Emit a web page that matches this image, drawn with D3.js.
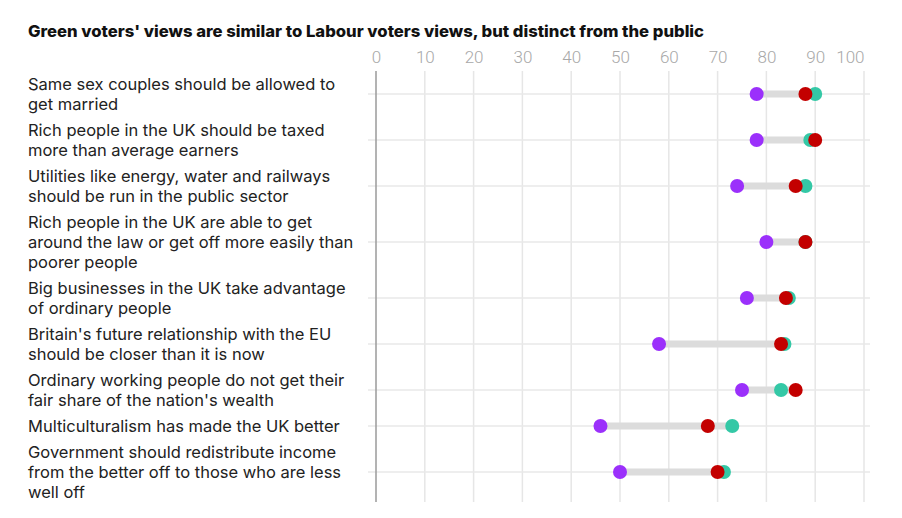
<!DOCTYPE html>
<html>
<head>
<meta charset="utf-8">
<script src="https://cdn.jsdelivr.net/npm/d3@7"></script>
<style>
  body { margin: 0; background: #fff; }
</style>
</head>
<body>
<div id="chart-area"></div>
<script>
// statements, each one split into the lines shown in the chart
var categories = [
    ["Same sex couples should be allowed to", "get married"],
    ["Rich people in the UK should be taxed", "more than average earners"],
    ["Utilities like energy, water and railways", "should be run in the public sector"],
    ["Rich people in the UK are able to get", "around the law or get off more easily than", "poorer people"],
    ["Big businesses in the UK take advantage", "of ordinary people"],
    ["Britain's future relationship with the EU", "should be closer than it is now"],
    ["Ordinary working people do not get their", "fair share of the nation's wealth"],
    ["Multiculturalism has made the UK better"],
    ["Government should redistribute income", "from the better off to those who are less", "well off"]
];
var publicValues = [78, 78, 74, 80, 76, 58, 75, 46, 50];
var greenValues  = [90, 89, 88, 88, 84.6, 83.7, 83, 73, 71.3];
var labourValues = [88, 90, 86, 88, 84, 83, 86, 68, 70];
var tickValues = [0, 10, 20, 30, 40, 50, 60, 70, 80, 90, 100];

var width = 902, height = 518;
var plotLeft = 376, plotRight = 864, plotTop = 71;
var lineH = 20, rowPad = 6;

var svg = d3.select("#chart-area").append("svg").attr("width", width).attr("height", height);

var keys = categories.map((c) => c.join(" "));
var data = categories.map((c, i) => ({key: keys[i], lines: c, pub: publicValues[i], green: greenValues[i], labour: labourValues[i]}));

// rows get taller with more label lines
var centers = [], yPos = plotTop;
categories.forEach((c) => {
    var h = c.length * lineH + rowPad;
    centers.push(yPos + h / 2);
    yPos += h;
});
var plotBottom = yPos - 3;

var x = d3.scaleLinear().domain([0, 100]).range([plotLeft, plotRight]);
var y = d3.scaleOrdinal().domain(keys).range(centers);

svg.append("text").attr("x", 28).attr("y", 37)
    .attr("font-family", "Inter, sans-serif").attr("font-weight", 800).attr("font-size", "16px")
    .attr("textLength", 676).attr("lengthAdjust", "spacingAndGlyphs")
    .attr("fill", "#111").text("Green voters' views are similar to Labour voters views, but distinct from the public");

// vertical grid
svg.append("g").selectAll("line").data(tickValues.filter((d) => d > 0)).enter().append("line")
    .attr("x1", (d) => x(d)).attr("x2", (d) => x(d)).attr("y1", plotTop).attr("y2", plotBottom)
    .attr("stroke", "#e6e6e6").attr("stroke-width", 1.5);

// horizontal row lines
svg.append("g").selectAll("line").data(data).enter().append("line")
    .attr("x1", plotLeft - 8).attr("x2", 870).attr("y1", (d) => y(d.key)).attr("y2", (d) => y(d.key))
    .attr("stroke", "#e8e8e8").attr("stroke-width", 1.5);

svg.append("line").attr("x1", x(0)).attr("x2", x(0)).attr("y1", plotTop).attr("y2", plotBottom)
    .attr("stroke", "#9a9a9a").attr("stroke-width", 1.5);

var xAxis = d3.axisTop(x).tickValues(tickValues).tickSize(0).tickPadding(0);
var axisG = svg.append("g").attr("transform", "translate(0, 63)").call(xAxis);
axisG.select(".domain").remove();
axisG.selectAll("text").attr("font-family", "Roboto, sans-serif").attr("font-weight", 300)
    .attr("font-size", "17px").attr("fill", "#a8a8a8")
    .attr("text-anchor", (d) => d === 100 ? "end" : "middle");

// labels
var labels = svg.append("g").selectAll("text").data(data).enter().append("text")
    .attr("font-family", "Inter, sans-serif").attr("font-size", "16.5px").attr("fill", "#222");
labels.selectAll("tspan").data((d) => d.lines.map((l, i) => ({t: l, i: i, n: d.lines.length, c: y(d.key)}))).enter()
    .append("tspan").attr("x", 28)
    .attr("y", (l) => l.c + (l.i - (l.n - 1) / 2) * lineH)
    .attr("dy", "0.35em").text((l) => l.t);

// connector bars
svg.append("g").selectAll("line").data(data).enter().append("line")
    .attr("x1", (d) => x(d.pub)).attr("x2", (d) => x(Math.max(d.green, d.labour)))
    .attr("y1", (d) => y(d.key)).attr("y2", (d) => y(d.key))
    .attr("stroke", "#dcdcdc").attr("stroke-width", 7);

var r = 7;
svg.append("g").selectAll("circle").data(data).enter().append("circle")
    .attr("cx", (d) => x(d.pub)).attr("cy", (d) => y(d.key)).attr("r", r).attr("fill", "#9b30fb");
svg.append("g").selectAll("circle").data(data).enter().append("circle")
    .attr("cx", (d) => x(d.green)).attr("cy", (d) => y(d.key)).attr("r", r).attr("fill", "#34c8a6");
svg.append("g").selectAll("circle").data(data).enter().append("circle")
    .attr("cx", (d) => x(d.labour)).attr("cy", (d) => y(d.key)).attr("r", r).attr("fill", "#c30000");
</script>
</body>
</html>
